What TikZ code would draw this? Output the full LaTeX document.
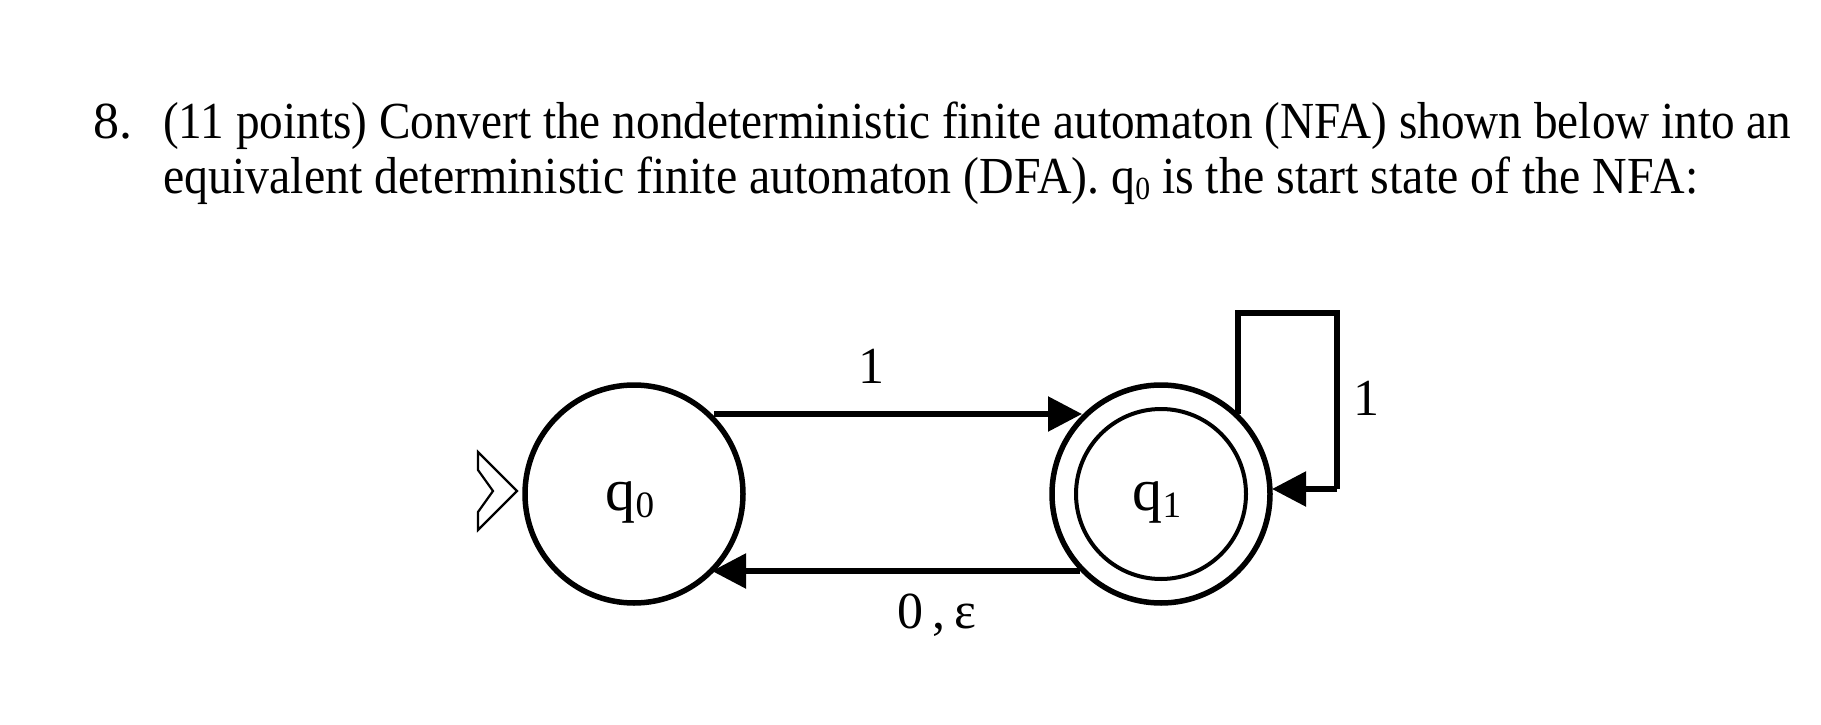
\documentclass[tikz,border=0pt]{standalone}
\usepackage{fontspec}
\setmainfont{Liberation Serif}
\usetikzlibrary{arrows.meta}
\newcommand{\subz}[1]{\raisebox{-0.12em}{\fontsize{0.62em}{0.62em}\selectfont #1}}
\begin{document}
\begin{tikzpicture}[x=1pt,y=-1pt,
  state/.style={circle,draw,line width=5.5pt,minimum size=218pt,inner sep=0pt},
  edge/.style={line width=5.5pt,-{Triangle[length=34pt,width=34pt]}},
  lbl/.style={font=\fontsize{52}{52}\selectfont,inner sep=0pt},
  txt/.style={font=\fontsize{52}{55}\selectfont,inner sep=0pt,anchor=base west}]
\useasboundingbox (0,0) rectangle (1821,725);
\fill[white] (0,0) rectangle (1821,725);
\node[txt] (num) at (93,138) {8.};
\node[txt] (l1) at (163,138) {\resizebox{1628pt}{\height}{(11 points) Convert the nondeterministic finite automaton (NFA) shown below into an}};
\node[txt] (l2) at (163,193) {\resizebox{1535pt}{\height}{equivalent deterministic finite automaton (DFA). q\subz{0} is the start state of the NFA:}};
\node[state] (q0) at (634,494) {};
\node[state] (q1) at (1161,494) {};
\node[circle,draw,line width=4pt,minimum size=170pt] (q1i) at (1161,494) {};
\node[lbl,font=\fontsize{60}{60}\selectfont] (t0) at (630,502) {q\subz{0}};
\node[lbl,font=\fontsize{60}{60}\selectfont] (t1) at (1157,502) {q\subz{1}};
\coordinate (a0) at (714,414);
\coordinate (a1) at (1082,414);
\draw[edge] (a0) -- (a1);
\node[lbl] (la) at (871,366) {1};
\coordinate (b0) at (1080,571);
\coordinate (b1) at (712,571);
\draw[edge] (b0) -- (b1);
\node[lbl] (lb) at (937,615) {0\,,\,ε};
\coordinate (c0) at (1238,414);
\coordinate (c1) at (1238,313);
\coordinate (c2) at (1337,313);
\coordinate (c3) at (1337,489);
\coordinate (c4) at (1272,489);
\draw[line width=5.5pt] (c0) -- (c1) -- (c2) -- (c3);
\draw[edge] (c3) -- (c4);
\node[lbl] (lc) at (1366,398) {1};
\draw[line width=2.2pt,line join=miter] (478,452) -- (517,491) -- (478,530) -- (478,512) -- (493,491) -- (478,470) -- cycle;
\end{tikzpicture}
\end{document}
